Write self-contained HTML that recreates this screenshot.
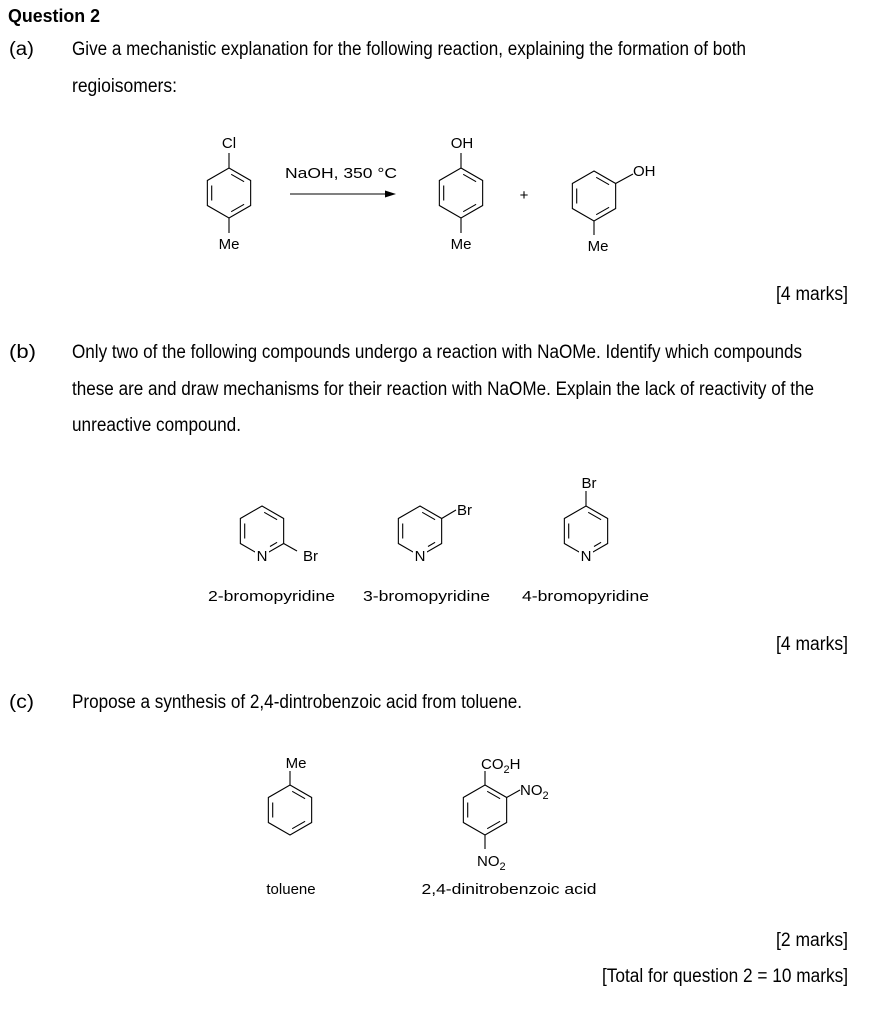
<!DOCTYPE html>
<html><head><meta charset="utf-8"><style>
html,body{margin:0;padding:0;background:#fff}
svg{display:block}
text{font-family:"Liberation Sans",sans-serif;fill:#000}
.t{font-size:19px}
.c{font-size:15px}
.s{stroke:#000;stroke-width:1.1;fill:none}
</style></head><body>
<svg width="892" height="1024" viewBox="0 0 892 1024" xmlns="http://www.w3.org/2000/svg">
<defs>
<g id="hx"><polygon class="s" points="0,-25 21.65,-12.5 21.65,12.5 0,25 -21.65,12.5 -21.65,-12.5"/>
<path class="s" d="M2.2,-18.7L15.1,-11.3M-17.3,-7.5L-17.3,7.5M15.1,11.3L2.2,18.7"/></g>
</defs>
<text x="8" y="22" font-size="18.5" font-weight="bold" textLength="92" lengthAdjust="spacingAndGlyphs">Question 2</text>
<text class="t" x="9" y="55" textLength="25" lengthAdjust="spacingAndGlyphs">(a)</text>
<text class="t" x="72" y="55" textLength="674" lengthAdjust="spacingAndGlyphs">Give a mechanistic explanation for the following reaction, explaining the formation of both</text>
<text class="t" x="72" y="92" textLength="105" lengthAdjust="spacingAndGlyphs">regioisomers:</text>

<use href="#hx" x="229" y="193"/>
<path class="s" d="M229,168L229,153M229,218L229,233"/>
<text class="c" x="229" y="148" text-anchor="middle">Cl</text>
<text class="c" x="229" y="249" text-anchor="middle">Me</text>
<text class="c" x="285" y="178" textLength="112" lengthAdjust="spacingAndGlyphs">NaOH, 350 °C</text>
<path class="s" d="M290,194L385,194"/><polygon points="385,190.5 396,194 385,197.5" fill="#000"/>
<use href="#hx" x="461" y="193"/>
<path class="s" d="M461,168L461,153M461,218L461,233"/>
<text class="c" x="462" y="148" text-anchor="middle">OH</text>
<text class="c" x="461" y="249" text-anchor="middle">Me</text>
<text class="c" x="524" y="200" text-anchor="middle">+</text>
<use href="#hx" x="594" y="196"/>
<path class="s" d="M615.6,183.5L633,174M594,221L594,235"/>
<text class="c" x="633" y="176">OH</text>
<text class="c" x="598" y="251" text-anchor="middle">Me</text>
<text class="t" x="848" y="300" text-anchor="end" textLength="72" lengthAdjust="spacingAndGlyphs">[4 marks]</text>

<text class="t" x="9" y="358" textLength="27" lengthAdjust="spacingAndGlyphs">(b)</text>
<text class="t" x="72" y="358" textLength="730" lengthAdjust="spacingAndGlyphs">Only two of the following compounds undergo a reaction with NaOMe. Identify which compounds</text>
<text class="t" x="72" y="395" textLength="742" lengthAdjust="spacingAndGlyphs">these are and draw mechanisms for their reaction with NaOMe. Explain the lack of reactivity of the</text>
<text class="t" x="72" y="431" textLength="169" lengthAdjust="spacingAndGlyphs">unreactive compound.</text>

<g transform="translate(262,531)"><polygon class="s" points="0,-25 21.65,-12.5 21.65,12.5 7,21 -7,21 -21.65,12.5 -21.65,-12.5" />
<path class="s" d="M2.2,-18.7L15.1,-11.3M-17.3,-7.5L-17.3,7.5M15.1,11.3L8,15.5"/>
<path class="s" d="M21.65,12.5L35,20"/><rect x="-7" y="17" width="14" height="12" fill="#fff"/></g>
<text class="c" x="262" y="561" text-anchor="middle">N</text>
<text class="c" x="303" y="561">Br</text>

<g transform="translate(420,531)"><polygon class="s" points="0,-25 21.65,-12.5 21.65,12.5 7,21 -7,21 -21.65,12.5 -21.65,-12.5"/>
<path class="s" d="M2.2,-18.7L15.1,-11.3M-17.3,-7.5L-17.3,7.5M15.1,11.3L8,15.5M21.65,-12.5L36,-21"/><rect x="-7" y="17" width="14" height="12" fill="#fff"/></g>
<text class="c" x="420" y="561" text-anchor="middle">N</text>
<text class="c" x="457" y="515">Br</text>

<g transform="translate(586,531)"><polygon class="s" points="0,-25 21.65,-12.5 21.65,12.5 7,21 -7,21 -21.65,12.5 -21.65,-12.5"/>
<path class="s" d="M2.2,-18.7L15.1,-11.3M-17.3,-7.5L-17.3,7.5M15.1,11.3L8,15.5M0,-25L0,-40"/><rect x="-7" y="17" width="14" height="12" fill="#fff"/></g>
<text class="c" x="586" y="561" text-anchor="middle">N</text>
<text class="c" x="589" y="488" text-anchor="middle">Br</text>

<text class="c" x="208" y="601" textLength="127" lengthAdjust="spacingAndGlyphs">2-bromopyridine</text>
<text class="c" x="363" y="601" textLength="127" lengthAdjust="spacingAndGlyphs">3-bromopyridine</text>
<text class="c" x="522" y="601" textLength="127" lengthAdjust="spacingAndGlyphs">4-bromopyridine</text>
<text class="t" x="848" y="650" text-anchor="end" textLength="72" lengthAdjust="spacingAndGlyphs">[4 marks]</text>

<text class="t" x="9" y="708" textLength="25" lengthAdjust="spacingAndGlyphs">(c)</text>
<text class="t" x="72" y="708" textLength="450" lengthAdjust="spacingAndGlyphs">Propose a synthesis of 2,4-dintrobenzoic acid from toluene.</text>

<use href="#hx" x="290" y="810"/>
<path class="s" d="M290,785L290,771"/>
<text class="c" x="296" y="768" text-anchor="middle">Me</text>
<text class="c" x="291" y="894" text-anchor="middle">toluene</text>

<use href="#hx" x="485" y="810"/>
<path class="s" d="M485,785L485,771M506.65,797.5L520,790M485,835L485,849"/>
<text class="c" x="481" y="769">CO<tspan font-size="11" dy="4">2</tspan><tspan dy="-4">H</tspan></text>
<text class="c" x="520" y="795">NO<tspan font-size="11" dy="4">2</tspan></text>
<text class="c" x="477" y="866">NO<tspan font-size="11" dy="4">2</tspan></text>
<text class="c" x="509" y="894" text-anchor="middle" textLength="175" lengthAdjust="spacingAndGlyphs">2,4-dinitrobenzoic acid</text>

<text class="t" x="848" y="946" text-anchor="end" textLength="72" lengthAdjust="spacingAndGlyphs">[2 marks]</text>
<text class="t" x="848" y="982" text-anchor="end" textLength="246" lengthAdjust="spacingAndGlyphs">[Total for question 2 = 10 marks]</text>
</svg>
</body></html>
